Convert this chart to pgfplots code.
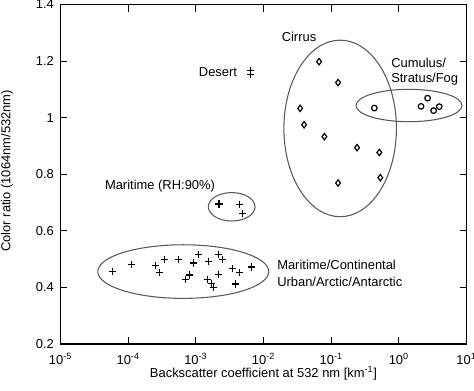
\documentclass[border=0pt]{standalone}
\usepackage{fontspec}
\setmainfont{Liberation Sans}
\usepackage{pgfplots}
\pgfplotsset{compat=1.18}
\begin{document}
\fontsize{9.7}{12.75}\selectfont
\begin{tikzpicture}[x=0.75pt,y=0.75pt]
\begin{axis}[
  at={(0,0)}, anchor=south west,
  scale only axis, width=304.5pt, height=254.6pt,
  xmode=log, xmin=1e-5, xmax=10, ymin=0.2, ymax=1.4,
  xtick={1e-5,1e-4,1e-3,1e-2,1e-1,1,10},
  xticklabels={10\textsuperscript{-5},10\textsuperscript{-4},10\textsuperscript{-3},10\textsuperscript{-2},10\textsuperscript{-1},10\textsuperscript{0},10\textsuperscript{1}},
  ytick={0.2,0.4,0.6,0.8,1,1.2,1.4},
  yticklabels={0.2,0.4,0.6,0.8,1,1.2,1.4},
  minor tick num=0, xminorticks=false,
  tick align=inside, major tick length=5.25pt,
  axis line style={line width=0.9pt},
  every tick/.style={line width=0.9pt, black},
  tick label style={font=\fontsize{9.7}{11}\selectfont},
  xticklabel style={yshift=-3.5pt},
  yticklabel style={xshift=-1.5pt},
  /pgf/number format/assume math mode=true,
  xlabel={Backscatter coefficient at 532 nm [km\textsuperscript{-1}]},
  ylabel={Color ratio (1064nm/532nm)},
  xlabel style={at={(axis description cs:0.5,0)}, anchor=center, yshift=-21.75pt},
  ylabel style={at={(axis description cs:-0.1315,0.51)}, anchor=center},
  clip=false,
]
% Maritime/Continental/Urban/Arctic/Antarctic
\addplot[only marks, mark=+, mark size=2.7pt, line width=0.9pt, black] coordinates {
(5.92e-5,0.457) (1.107e-4,0.481) (2.53e-4,0.478) (2.90e-4,0.452) (3.44e-4,0.499)
(5.48e-4,0.500) (9.31e-4,0.486) (1.081e-3,0.517) (1.521e-3,0.493) (2.178e-3,0.517)
(2.472e-3,0.499) (3.436e-3,0.467) (4.446e-3,0.453) (6.56e-3,0.472) (7.01e-4,0.429)
(8.04e-4,0.444) (1.469e-3,0.429) (1.683e-3,0.414) (1.837e-3,0.399) (2.178e-3,0.447)
(3.846e-3,0.412)
};
% Maritime RH 90%
\addplot[only marks, mark=+, mark size=2.7pt, line width=0.9pt, black] coordinates {
(2.20e-3,0.695) (4.38e-3,0.692) (4.92e-3,0.662)
};
% Desert
\addplot[only marks, mark=+, mark size=2.7pt, line width=0.9pt, black] coordinates {
(6.47e-3,1.166) (6.47e-3,1.154)
};
% Cirrus
\addplot[only marks, mark=diamond, mark size=2.4pt, line width=0.9pt, black] coordinates {
(0.0662,1.198) (0.1265,1.124) (0.0348,1.033) (0.0398,0.975) (0.0794,0.933)
(0.2415,0.894) (0.515,0.877) (0.533,0.788) (0.1265,0.769)
};
% Cumulus/Stratus/Fog
\addplot[only marks, mark=o, mark size=2.1pt, line width=0.9pt, black] coordinates {
(0.4345,1.034) (2.128,1.040) (2.661,1.069) (3.266,1.025) (3.963,1.039)
};
% ellipses
\draw[black!65, line width=0.8pt] (axis cs:6.52e-4,0.456) ellipse [x radius=64.1pt, y radius=20.1pt];
\draw[black!65, line width=0.8pt] (axis cs:0.1358,0.962) ellipse [x radius=42.2pt, y radius=66.2pt];
\draw[black!65, line width=0.8pt] (axis cs:1.413,1.043) ellipse [x radius=39.75pt, y radius=12.15pt];
\draw[black!65, line width=0.8pt] (axis cs:3.39e-3,0.685) ellipse [x radius=17.5pt, y radius=10.65pt];
\end{axis}
% labels (pixel coordinates relative to axis origin)
\node[anchor=center, inner sep=0pt] at (218-60.5,344-72.5) {Desert};
\node[anchor=center, inner sep=0pt] at (160-60.5,344-186.5) {Maritime (RH:90\%)};
\node[anchor=center, inner sep=0pt] at (299-60.5,344-36.5) {Cirrus};
\node[anchor=west, inner sep=0pt] at (391-60.5,344-62.7) {Cumulus/};
\node[anchor=west, inner sep=0pt] at (391-60.5,344-79.5) {Stratus/Fog};
\node[anchor=west, inner sep=0pt] at (277-60.5,344-265) {Maritime/Continental};
\node[anchor=west, inner sep=0pt] at (277-60.5,344-281.7) {Urban/Arctic/Antarctic};
\pgfresetboundingbox
\path[use as bounding box] (-60.5,-47) rectangle (413.5,344);
\end{tikzpicture}
\end{document}
